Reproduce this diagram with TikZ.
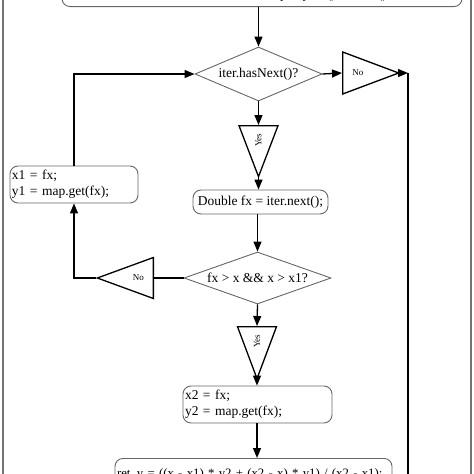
\documentclass[tikz,border=0pt]{standalone}
\usepackage{fontspec}
\setmainfont{Liberation Serif}
\usetikzlibrary{shapes.geometric,arrows.meta}
\begin{document}
\begin{tikzpicture}[x=1pt,y=-1pt,
  box/.style={draw=black!60, line width=0.9pt, rounded corners=8pt, inner sep=2pt, font=\fontsize{13.5}{16}\selectfont},
  dec/.style={diamond, draw=black!60, line width=0.9pt, inner sep=0pt, font=\fontsize{13.5}{16}\selectfont},
  tri/.style={isosceles triangle, isosceles triangle stretches, draw=black, line width=1.3pt, inner sep=0pt, font=\fontsize{9}{10}\selectfont},
  conn/.style={line width=1.3pt, -{Triangle[length=10pt,width=8pt]}},
  plain/.style={line width=1.3pt},
  frame/.style={draw=black!55, line width=1.5pt}]
\useasboundingbox (0,0) rectangle (474,474);
\clip (0,0) rectangle (474,474);
% frame lines
\coordinate (fl1) at (3,-10); \coordinate (fl2) at (3,490);
\coordinate (fr1) at (471,-10); \coordinate (fr2) at (471,490);
\draw[frame] (fl1) -- (fl2);
\draw[frame] (fr1) -- (fr2);
% nodes
\node[box, anchor=south, minimum width=400pt, text height=9pt, text depth=0pt, inner ysep=8pt] (init) at (262,7) {Iterator<Double> iter = map.keySet().iterator();};
\node[dec, aspect=2.35, minimum width=127pt, minimum height=54pt] (d1) at (258.5,74) {iter.hasNext()?};
\node[tri, minimum height=56pt, minimum width=42pt, anchor=lower side] (no1) at (342,73) {No};
\coordinate (c1) at (408,73);
\coordinate (c1end) at (408,490);
\node[tri, shape border rotate=180, rotate=90, minimum height=51pt, minimum width=39pt, anchor=lower side] (yes1) at (258.5,125) {Yes};
\node[box, minimum width=135pt, minimum height=24pt] (dbl) at (260.5,202) {Double fx = iter.next();};
\node[dec, aspect=2.83, minimum width=147pt, minimum height=52pt] (d2) at (257.5,278) {fx > x \&\& x > x1?};
\node[tri, shape border rotate=180, minimum height=56pt, minimum width=41pt, anchor=lower side] (no2) at (154,278) {No};
\node[box, minimum width=128pt, minimum height=37pt, text width=124pt, align=left] (x1) at (74,184.5) {x1 = fx;\\y1 = map.get(fx);};
\node[tri, shape border rotate=180, rotate=90, minimum height=52pt, minimum width=39pt, anchor=lower side] (yes2) at (257,326) {Yes};
\node[box, minimum width=149pt, minimum height=37pt, text width=145pt, align=left] (x2) at (257.5,404.5) {x2 = fx;\\y2 = map.get(fx);};
\node[box, font=\fontsize{12.8}{16}\selectfont, anchor=north, minimum width=277pt, text width=273pt, align=left, text height=17pt, text depth=40pt] (ret) at (253.5,458) {ret\_y = ((x - x1) * y2 + (x2 - x) * y1) / (x2 - x1);};
% connectors
\draw[conn] (init.south -| d1.north) -- (d1.north);
\draw[conn] (d1.east) -- (no1.lower side);
\draw[conn] (no1.apex) -- (c1);
\draw[plain] (c1) -- (c1end);
\draw[conn] (d1.south) -- (yes1.lower side);
\draw[conn] (yes1.apex) -- (yes1.apex |- dbl.north);
\draw[conn] (d2.north |- dbl.south) -- (d2.north);
\draw[plain] (d2.west) -- (no2.lower side);
\draw[conn] (no2.apex) -| (x1.south);
\draw[conn] (x1.north) |- (d1.west);
\draw[conn] (d2.south) -- (yes2.lower side);
\draw[conn] (yes2.apex) -- (yes2.apex |- x2.north);
\draw[conn] (yes2.apex |- x2.south) -- (yes2.apex |- ret.north);
\end{tikzpicture}
\end{document}
